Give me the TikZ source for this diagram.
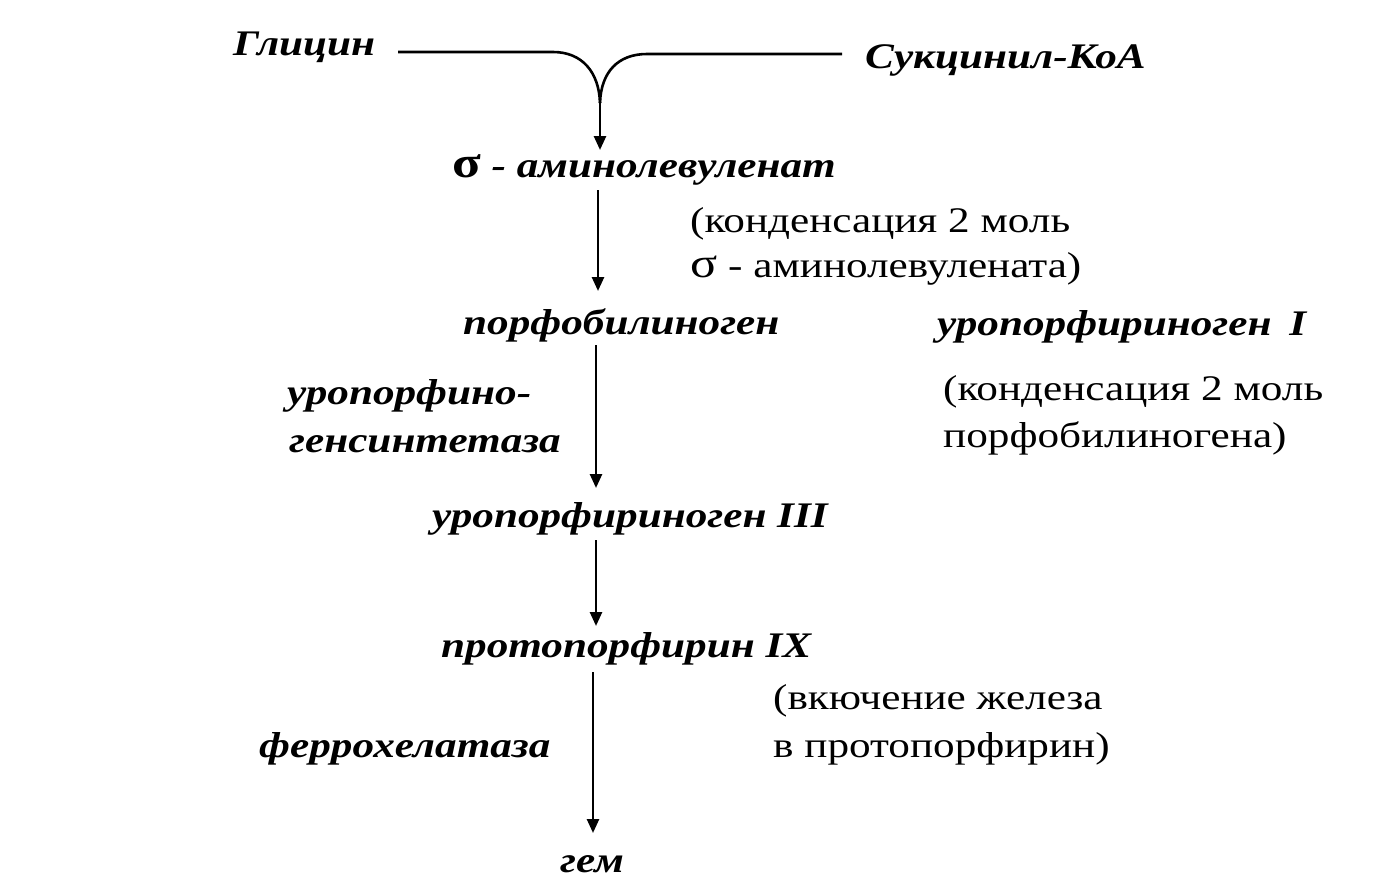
\documentclass[tikz,border=0pt]{standalone}
\usepackage{fontspec}
\setmainfont{Liberation Serif}[FakeStretch=1.2]
\usetikzlibrary{arrows.meta}
\newcommand\sigmabig{{\upshape\fontsize{44}{44}\selectfont σ}}
\begin{document}
\begin{tikzpicture}[x=1pt,y=-1pt,
  lbl/.style={anchor=base west,inner sep=0pt,font=\fontsize{36}{44}\selectfont\bfseries\itshape},
  note/.style={anchor=base west,inner sep=0pt,font=\fontsize{36}{44}\selectfont},
  flow/.style={line width=2.6pt,-{Triangle[width=12pt,length=14pt]}},
  feed/.style={line width=2.6pt}]
\useasboundingbox (0,0) rectangle (1400,892);
% texts
\node[lbl] (gly) at (233,55) {Глицин};
\node[lbl] (suc) at (865,68) {Сукцинил-КоА};
\node[lbl] (ala) at (452,177) {\sigmabig\ - аминолевуленат};
\node[note] (c1a) at (690,232) {(конденсация 2 моль};
\node[note] (c1b) at (690,277) {{\fontsize{42}{42}\selectfont σ} - аминолевулената)};
\node[lbl] (pbg) at (463,334) {порфобилиноген};
\node[lbl] (uro1) at (937,335) {уропорфириноген\enspace I};
\node[note] (c2a) at (943,400) {(конденсация 2 моль};
\node[note] (c2b) at (943,447) {порфобилиногена)};
\node[lbl] (enz1a) at (287,404) {уропорфино-};
\node[lbl] (enz1b) at (289,452) {генсинтетаза};
\node[lbl] (uro3) at (432,527) {уропорфириноген III};
\node[lbl] (ppx) at (441,657) {протопорфирин IX};
\node[note] (c3a) at (773,709) {(вкючение железа};
\node[note] (c3b) at (773,757) {в протопорфирин)};
\node[lbl] (enz2) at (259,757) {феррохелатаза};
\node[lbl] (heme) at (560,872) {гем};
% junction
\coordinate (gl0) at (398,52);
\coordinate (gl1) at (553,52);
\coordinate (sc0) at (842,54);
\coordinate (sc1) at (647,54);
\coordinate (jn) at (600,103);
\coordinate (a0e) at (600,150);
\draw[feed] (gl0) -- (gl1) .. controls (582,52) and (599,72) .. (jn);
\draw[feed] (sc0) -- (sc1) .. controls (618,54) and (601,72) .. (jn);
\draw[flow] (jn) -- (a0e);
% arrows
\coordinate (a1s) at (598,190);
\coordinate (a1e) at (598,291);
\draw[flow] (a1s) -- (a1e);
\coordinate (a2s) at (596,345);
\coordinate (a2e) at (596,488);
\draw[flow] (a2s) -- (a2e);
\coordinate (a3s) at (596,540);
\coordinate (a3e) at (596,626);
\draw[flow] (a3s) -- (a3e);
\coordinate (a4s) at (593,672);
\coordinate (a4e) at (593,833);
\draw[flow] (a4s) -- (a4e);
\end{tikzpicture}
\end{document}
